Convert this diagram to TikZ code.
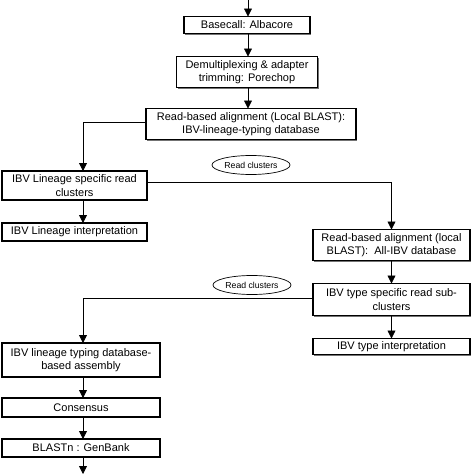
\documentclass[tikz,border=0pt]{standalone}
\usepackage{fontspec}
\setmainfont{Liberation Sans}
\usetikzlibrary{arrows.meta, positioning, shapes, shadows}

\begin{document}
\begin{tikzpicture}[x=1pt, y=1pt, node distance=22pt, font=\fontsize{11}{13.5}\selectfont]
\tikzset{every node/.style={inner sep=1mm, outer sep=0mm}}

\tikzstyle{step box}=[rectangle, draw=black, fill=white, line width=1.1pt, align=center, inner sep=0pt,
    drop shadow={shadow xshift=1.4pt, shadow yshift=-1.4pt, fill=black!55, opacity=1}]
\tikzstyle{cluster tag}=[ellipse, draw=black, fill=white, line width=0.7pt, minimum width=78pt, minimum height=19pt, inner sep=0pt,
    font=\fontsize{8.7}{10}\selectfont]
\tikzstyle{post}=[-{Triangle[width=8pt, length=8pt]}, line width=0.8pt]
\tikzstyle{link}=[line width=0.8pt]

\useasboundingbox (0,0) rectangle (474,-474);

\coordinate (reads in) at (248,0);

\node[step box, minimum width=126pt, minimum height=17pt] (basecall) at (247,-25) {Basecall: Albacore};
\node[step box, minimum width=141pt, minimum height=31pt, below=23pt of basecall] (demux) {Demultiplexing \& adapter\\trimming: Porechop};
\node[step box, minimum width=210pt, minimum height=31pt, below=21pt of demux, xshift=4pt] (lineage blast) {Read-based alignment (Local BLAST):\\IBV-lineage-typing database};

\node[step box, minimum width=145pt, minimum height=29pt] (lineage clusters) at (74.5,-185.5) {IBV Lineage specific read\\clusters};
\node[step box, minimum width=145pt, minimum height=18pt, below=23pt of lineage clusters] (lineage interp) {IBV Lineage interpretation};

\node[step box, minimum width=157pt, minimum height=31pt] (all blast) at (391.5,-245) {Read-based alignment (local\\BLAST):\ \ All-IBV database};
\node[step box, minimum width=157pt, minimum height=32pt, below=23pt of all blast] (type clusters) {IBV type specific read sub-\\clusters};
\node[step box, minimum width=157pt, minimum height=16pt, below=23pt of type clusters] (type interp) {IBV type interpretation};

\node[step box, minimum width=158pt, minimum height=34pt] (assembly) at (81,-360) {IBV lineage typing database-\\based assembly};
\node[step box, minimum width=158pt, minimum height=19pt, below=21pt of assembly] (consensus) {Consensus};
\node[step box, minimum width=158pt, minimum height=18pt, below=22pt of consensus] (blastn) {BLASTn : GenBank};

\coordinate (reads out) at (83,-474);

% corner points of the elbow connectors
\coordinate (lineage corner) at (83,-122);
\coordinate (all corner) at (391.5,-182);
\coordinate (type corner) at (83,-298);

\node[cluster tag] (lineage tag) at (251,-165) {Read clusters};
\node[cluster tag] (type tag) at (252,-285) {Read clusters};

% straight steps
\draw[post] (reads in) -- (reads in |- basecall.north);
\draw[post] (basecall.south -| reads in) -- (demux.north -| reads in);
\draw[post] (demux.south -| reads in) -- (lineage blast.north -| reads in);
\draw[post] (lineage clusters.south -| lineage corner) -- (lineage interp.north -| lineage corner);
\draw[post] (all blast) -- (type clusters);
\draw[post] (type clusters) -- (type interp);
\draw[post] (assembly.south -| lineage corner) -- (consensus.north -| lineage corner);
\draw[post] (consensus.south -| lineage corner) -- (blastn.north -| lineage corner);
\draw[post] (blastn.south -| lineage corner) -- (reads out);

% elbow steps
\draw[link] (lineage blast.west |- lineage corner) -- (lineage corner);
\draw[post] (lineage corner) -- (lineage clusters.north -| lineage corner);
\draw[link] (lineage clusters.east |- all corner) -- (all corner);
\draw[post] (all corner) -- (all blast.north);
\draw[link] (type clusters.west |- type corner) -- (type corner);
\draw[post] (type corner) -- (assembly.north -| type corner);

\end{tikzpicture}
\end{document}
